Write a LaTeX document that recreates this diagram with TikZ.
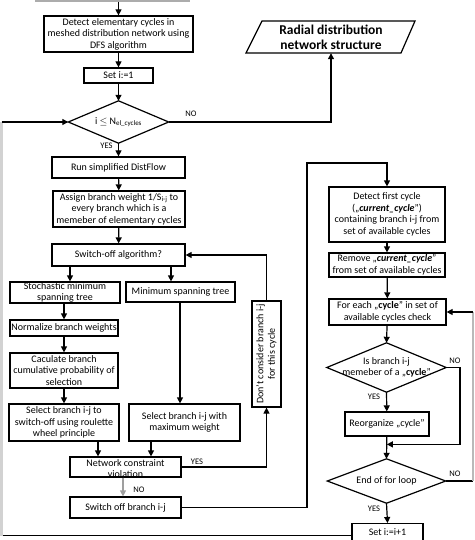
\documentclass[tikz,border=0pt]{standalone}
\usepackage{fontspec}
\setmainfont{Carlito}
\usetikzlibrary{arrows.meta,calc}
\begin{document}
\begin{tikzpicture}[x=1pt,y=-1pt,
 ln/.style={line width=1.2pt},
 arr/.style={line width=1.2pt,-{Triangle[length=6pt,width=6pt]}},
 bx/.style={draw,line width=1.2pt,align=center,inner sep=0pt,fill=white,font=\fontsize{10}{11.5}\selectfont},
 ghost/.style={inner sep=0pt,align=center,font=\fontsize{10}{11.5}\selectfont},
 lbl/.style={font=\fontsize{8.5}{9}\selectfont,inner sep=0pt},
]
\useasboundingbox (0,0) rectangle (474,540);

% left column
\node[fill=gray!65,minimum width=155pt,minimum height=8pt,inner sep=0pt] (prev) at (112.5,-2) {};
\node[bx,minimum width=149pt,minimum height=36pt] (d1) at (118.5,34) {Detect elementary cycles in\\meshed distribution network using\\DFS algorithm};
\node[bx,minimum width=69pt,minimum height=15pt] (set1) at (118.5,75.5) {Set i:=1};
\node[ghost,minimum width=100pt,minimum height=42pt] (dia1) at (118.5,122) {i $\leq$ N\textsubscript{el\_cycles}};
\draw[ln] (dia1.north) -- (dia1.east) -- (dia1.south) -- (dia1.west) -- cycle;
\node[ghost,minimum width=150pt,minimum height=32pt,font=\fontsize{13.5}{15}\selectfont\bfseries] (radial) at (331,37) {Radial distribution\\network structure};
\draw[ln] (262,21) -- (415,21) -- (401,53) -- (246,53) -- cycle;
\node[bx,minimum width=133pt,minimum height=21pt] (run) at (118.5,167.5) {Run simplified DistFlow};
\node[bx,minimum width=132pt,minimum height=36pt] (assign) at (119,209) {Assign branch weight 1/S\textsubscript{i-j} to\\every branch which is a\\memeber of elementary cycles};
\node[bx,minimum width=133pt,minimum height=22pt] (switch) at (118.5,255) {Switch-off algorithm?};
\node[bx,minimum width=110pt,minimum height=21pt] (stoch) at (65,292.5) {Stochastic minimum\\spanning tree};
\node[bx,minimum width=109pt,minimum height=20pt] (mst) at (180.5,292) {Minimum spanning tree};
\node[bx,minimum width=108pt,minimum height=16pt] (norm) at (64,328) {Normalize branch weights};
\node[bx,minimum width=108pt,minimum height=35pt] (calc) at (64,370.5) {Caculate branch\\cumulative probability of\\selection};
\node[bx,minimum width=110pt,minimum height=37pt] (selr) at (64,422.5) {Select branch i-j to\\switch-off using roulette\\wheel principle};
\node[bx,minimum width=111pt,minimum height=37pt] (selm) at (184.5,422.5) {Select branch i-j with\\maximum weight};
\node[bx,minimum width=111pt,minimum height=20pt] (net) at (125.5,467) {};
\node[ghost] (nettext) at (125.5,468.5) {Network constraint\\violation};
\node[bx,minimum width=111pt,minimum height=21pt] (swoff) at (125.5,507.5) {Switch off branch i-j};
\node[bx,minimum width=29pt,minimum height=106pt] (dont) at (266.5,354) {};
\node[ghost,rotate=90] (donttext) at (dont.center) {Don’t consider branch i-j\\for this cycle};

% right column
\node[bx,minimum width=116pt,minimum height=55pt] (detect) at (387,214.5) {Detect first cycle\\(„\textbf{\textit{current\_cycle}}”)\\containing branch i-j from\\set of available cycles};
\node[bx,minimum width=116pt,minimum height=24pt] (remove) at (387,265) {Remove „\textbf{\textit{current\_cycle}}”\\from set of available cycles};
\node[bx,minimum width=117pt,minimum height=26pt] (foreach) at (387.5,312) {For each „\textbf{cycle}” in set of\\available cycles check};
\node[ghost,minimum width=119pt,minimum height=49pt] (dia2) at (386.5,367.5) {Is branch i-j\\memeber of a „\textbf{cycle}”};
\draw[ln] (dia2.north) -- (dia2.east) -- (dia2.south) -- (dia2.west) -- cycle;
\node[bx,minimum width=84pt,minimum height=24pt] (reorg) at (387,424) {Reorganize „cycle”};
\node[ghost,minimum width=118pt,minimum height=44pt] (dia3) at (386.5,481) {End of for loop};
\draw[ln] (dia3.north) -- (dia3.east) -- (dia3.south) -- (dia3.west) -- cycle;
\node[bx,minimum width=71pt,minimum height=24pt,anchor=north] (seti) at (387.5,523) {};
\node[ghost] (setitext) at (387.5,532.5) {Set i:=i+1};

% helper coordinates
\coordinate (c1) at (307,163);
\coordinate (c2) at (1.5,300);
\coordinate (c3) at (460,400);
\coordinate (c5) at (473,400);

% connectors
\draw[arr] (prev.south -| d1.north) -- (d1.north);
\draw[arr] (d1) -- (set1);
\draw[arr] (set1) -- (dia1.north);
\draw[arr] (dia1.east) -| (radial.south);
\draw[arr] (dia1.south) -- (run);
\draw[arr] (run) -- (assign);
\draw[arr] (assign) -- (switch);
\draw[arr] ([xshift=-48.5pt]switch.south) -- ([xshift=-48.5pt]switch.south |- stoch.north);
\draw[arr] ([xshift=52.5pt]switch.south) -- ([xshift=52.5pt]switch.south |- mst.north);
\draw[arr] (stoch.south -| norm.north) -- (norm.north);
\draw[arr] (norm) -- (calc);
\draw[arr] (calc) -- (selr);
\draw[arr] ([xshift=-0.5pt]mst.south) -- ([xshift=-0.5pt]mst.south |- selm.north);
\draw[arr] ([xshift=34pt]selr.south) -- ([xshift=34pt]selr.south |- net.north);
\draw[arr] ([xshift=-33.5pt]selm.south) -- ([xshift=-33.5pt]selm.south |- net.north);
\draw[arr,draw=gray!75,fill=gray!75] ([xshift=-2.5pt]net.south) -- ([xshift=-2.5pt]net.south |- swoff.north);
\draw[arr] (net.east) -| (dont.south);
\draw[arr] (dont.north) |- (switch.east);
\draw[arr] (swoff.east) -| (c1) -| (detect.north);
\draw[arr] (detect) -- (remove);
\draw[arr] (remove) -- (foreach);
\draw[arr] (foreach) -- (dia2.north);
\draw[arr] (dia2.south) -- (reorg);
\draw[arr] (reorg) -- (dia3.north);
\draw[arr] (dia2.east) -| (c3) |- ($(reorg.south)!0.35!(dia3.north)$);
\draw[ln] (dia3.east) -- (dia3.east -| c5);
\draw[line width=2pt,gray!55] (dia3.east -| c5) -- (foreach.east -| c5);
\draw[arr] (foreach.east -| c5) -- (foreach.east);
\draw[arr] (dia3.south) -- (seti.north);
\draw[ln] (seti.west) -- (seti.west -| c2);
\draw[line width=3pt,gray!35] (seti.west -| c2) -- (dia1.west -| c2);
\draw[arr] (dia1.west -| c2) -- (dia1.west);

% labels
\node[lbl] (no1) at (191,114) {NO};
\node[lbl] (yes1) at (106.5,146) {YES};
\node[lbl] (yes2) at (197,462) {YES};
\node[lbl] (no2) at (139,490) {NO};
\node[lbl] (no3) at (455,361) {NO};
\node[lbl] (yes3) at (374,397) {YES};
\node[lbl] (no4) at (455,474) {NO};
\node[lbl] (yes4) at (374,509) {YES};
\end{tikzpicture}
\end{document}
